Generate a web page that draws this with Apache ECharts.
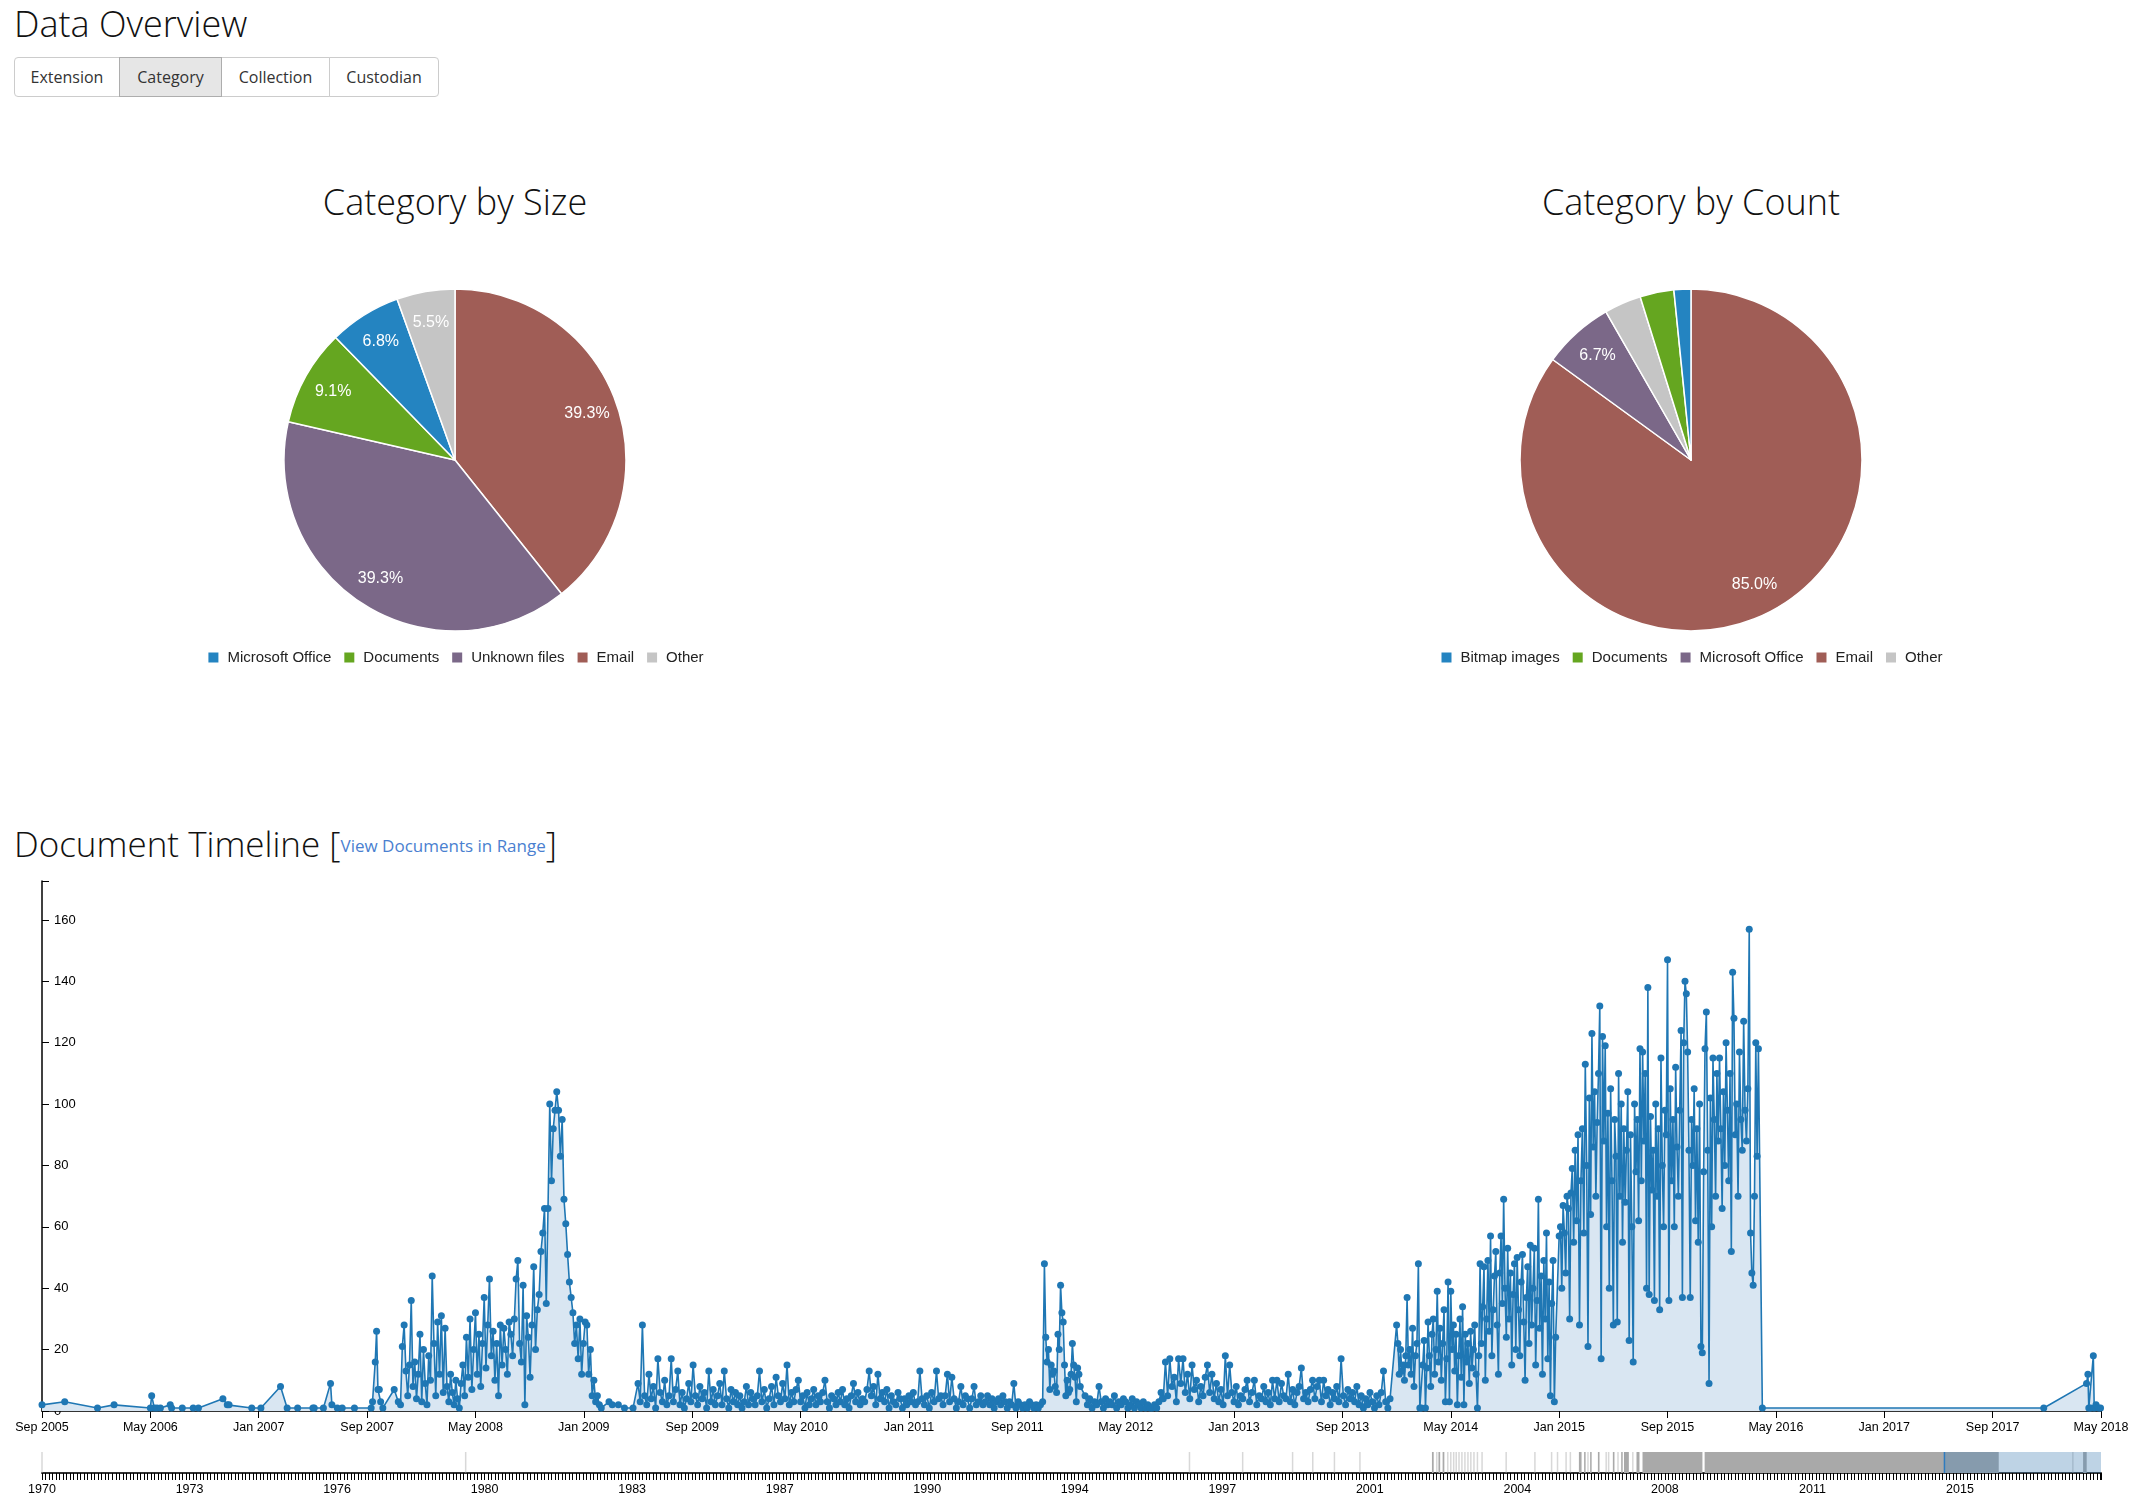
<!DOCTYPE html>
<html>
<head>
<meta charset="utf-8">
<script src="https://cdn.jsdelivr.net/npm/echarts@6/dist/echarts.min.js"></script>
<style>
html,body{margin:0;padding:0;background:#fff;width:2132px;height:1510px;overflow:hidden;}
.h{position:absolute;font-family:"Open Sans";font-weight:300;color:#111;white-space:nowrap;line-height:1;}
.btns{position:absolute;left:14px;top:57px;display:flex;font-family:"Open Sans";font-size:16px;color:#333;}
.btns div{box-sizing:border-box;height:40px;line-height:38px;text-align:center;border:1px solid #ccc;margin-left:-1px;background:#fff;}
.btns div:first-child{margin-left:0;border-radius:4px 0 0 4px;}
.btns div:last-child{border-radius:0 4px 4px 0;}
.btns div.active{background:#e6e6e6;border-color:#adadad;position:relative;z-index:1;}
.lnk{font-size:17px;font-weight:400;color:#4a7fd0;position:relative;top:-5px;}
.chart{position:absolute;}
</style>
</head>
<body>
<div class="h" style="left:14px;top:6px;font-size:36px;">Data Overview</div>
<div class="btns">
  <div style="width:106px">Extension</div>
  <div class="active" style="width:103px">Category</div>
  <div style="width:109px">Collection</div>
  <div style="width:110px">Custodian</div>
</div>
<div class="h" style="left:455px;top:184px;font-size:36px;transform:translateX(-50%);">Category by Size</div>
<div class="h" style="left:1691px;top:184px;font-size:36px;transform:translateX(-50%);">Category by Count</div>
<div class="h" style="left:14px;top:826px;font-size:35px;">Document Timeline <span>[</span><span class="lnk">View Documents in Range</span><span>]</span></div>

<div id="pieSize" class="chart" style="left:15px;top:240px;width:880px;height:440px;"></div>
<div id="pieCount" class="chart" style="left:1251px;top:240px;width:880px;height:440px;"></div>
<div id="timeline" class="chart" style="left:0px;top:860px;width:2132px;height:650px;"></div>

<script>
// ---------------- Pie data ----------------
const sizeNames   = ['Email', 'Unknown files', 'Documents', 'Microsoft Office', 'Other'];
const sizeValues  = [39.3, 39.3, 9.1, 6.8, 5.5];
const sizeLegend  = ['Microsoft Office', 'Documents', 'Unknown files', 'Email', 'Other'];

const countNames  = ['Email', 'Microsoft Office', 'Other', 'Documents', 'Bitmap images'];
const countValues = [85.0, 6.7, 3.5, 3.2, 1.6];
const countLegend = ['Bitmap images', 'Documents', 'Microsoft Office', 'Email', 'Other'];

// ---------------- Timeline data ----------------
// sparse early documents (date, count)
const sparse2005Dates = ['2005-09-01','2005-10-22','2006-01-04','2006-02-10','2006-05-01','2006-05-04','2006-05-10','2006-05-16','2006-05-24','2006-06-15',
  '2006-06-18','2006-07-12','2006-08-06','2006-08-18','2006-10-12','2006-10-22','2006-10-26','2006-12-16','2007-01-06','2007-02-18',
  '2007-03-04','2007-03-28','2007-05-01','2007-05-04','2007-05-25','2007-06-10','2007-06-13','2007-06-25','2007-07-06','2007-08-03',
  '2007-09-10','2007-09-13','2007-09-19','2007-09-22','2007-09-25','2007-09-28','2007-10-01','2007-10-06','2007-11-01','2007-11-10'];
const sparse2005Counts = [2,3,1,2,1,5,1,1,1,2, 1,1,1,1,4,2,2,1,1,8, 1,1,1,1,1,9,2,1,1,1, 1,3,16,26,7,7,3,1,7,3];

// burst Nov 2007 - Feb 2009 (every 4 days)
const burst2008Start = '2007-11-15', burst2008Step = 4;
const burst2008Counts = [2,21,28,13, 5,15,36,8,16,4,12,25, 3,20,9,2,18,10,44, 22,5,29,12,31,6,27,8, 3,12,6,2,10,4,1,
  9,15,5,24,11,30,7,20, 32,12,25,8,22,37,14,28, 43,18,26,10,22,5,28, 15,27,20,12,29,25,18,30, 43,49,22,16,41,2,31,24,
  11,28,47,20,33,38,52, 58,66,35,66,100,75,92,98, 104,98,83,95,69,61,51,42, 37,32,22,28,17,30,12, 22,29,28,12,20,5,10,3, 5,2,1];

const lull2009Dates  = ['2009-02-25','2009-03-04','2009-03-18','2009-04-01','2009-04-20'];
const lull2009Counts = [3,2,2,1,1];

// May 2009 - Oct 2011 (every 5 days)
const low2009Start = '2009-05-01', low2009Step = 5;
const low2009Counts = [
  9,3,28,5,2,12, 4,8,1,17,6,3, 10,2,5,17,3,7, 13,2,6,1,4,9, 3,15,5,2,8,4, 6,1,13,3,7,2,
  5,9,2,13,4,1, 7,3,6,2,5,1, 3,8,2,6,4,2, 5,13,3,7,1,4, 8,2,11,5,3,9, 4,15,2,6,3,7,
  10,3,5,1,6,2, 4,7,2,5,3,6, 10,3,1,5,4,2, 6,3,7,2,4,1, 5,9,3,6,2,4, 3,7,13,5,8,2,
  12,4,6,3,7,1, 5,3,2,6,4,1, 4,2,5,3,6,2, 3,13,4,2,5,1, 6,3,13,4,5,2, 5,12,3,11,4,1,
  3,8,2,5,4,1, 4,8,2,3,5,2, 3,5,2,4,1,3, 4,2,5,3,1,3, 2,9,1,3,2,1, 2,1,3,2,1,2, 1,2,3];

// Nov 2011 spike (every 3 days)
const spike2011Start = '2011-11-01', spike2011Step = 3;
const spike2011Counts = [48,24,16,20,7,15,12,13,8,6,25,20,41,32,29,15,5,10,6,7,12,22,15,11,3,14,12,8];

// Feb 2012 - Dec 2013 (every 5 days)
const low2012Start = '2012-02-01', low2012Step = 5;
const low2012Counts = [
  5,2,4,1,3,2, 8,3,1,4,2,3, 2,5,1,3,2,4, 3,1,2,4,1,3, 2,1,3,1,2,1, 1,2,1,3,6,4,
  16,5,17,8,11,3, 17,9,17,6,12,4, 15,7,10,3,8,5, 11,15,6,12,4,9, 3,7,2,18,5,15,
  6,3,8,2,5,4, 7,10,3,6,10,2, 5,4,8,3,6,2, 10,4,10,3,9,5, 4,12,3,7,2,6, 8,14,4,6,3,7,
  10,4,8,10,3,10, 5,7,2,6,4,8, 3,17,5,2,7,4, 6,3,8,2,5,1, 4,2,6,3,1,5, 2,6,13,3,1,4];

// 2014 rise (every 3 days)
const rise2014Start = '2014-01-01', rise2014Step = 3;
const rise2014Counts = [
  28,22,12,20,13,15,10,18,37,15, 20,12,27,8,18,22,48,1,1,15, 23,1,14,29,18,8,25,30,12,20,
  39,16,27,10,22,33,3,17,42,3, 39,20,28,13,25,2,18,30,11,34, 2,25,16,22,9,26,14,20,28,12,
  1,18,48,22,34,47,10,30,49,26, 57,18,33,44,52,28,12,45,57,35, 69,40,24,53,30,45,15,38,48,20,
  50,33,18,42,51,29,10,37,47,22, 54,28,40,53,15,36,69,27,44,12, 49,30,58,17,42,5,35,49,3,24];

// 2015 - Mar 2016 peak (every 3 days)
const peak2015Start = '2015-01-01', peak2015Step = 3;
const peak2015Counts = [
  57,60,40,67,58,45,70,66,30,71, 79,55,85,62,90,28,75,92,58,113, 80,21,102,64,123,86,104,70,94,110,
  132,17,122,88,119,60,97,40,105,75, 28,95,83,29,110,70,100,55,92,68, 85,104,23,90,60,16,100,78,95,62,
  118,75,117,88,110,40,138,38,96,72, 85,36,100,70,92,33,115,80,60,98, 90,147,36,105,75,95,60,112,86,70,
  98,124,37,120,140,136,117,85,37,95, 80,105,62,92,55,100,21,19,78,118, 130,85,9,102,60,115,95,70,110,88,
  115,92,66,104,80,120,98,75,110,52, 143,128,90,100,70,117,95,85,127,98, 88,105,157,58,45,41,70,120,83,118];

const tailDates  = ['2016-04-01','2017-12-25','2018-03-30','2018-04-02','2018-04-04','2018-04-08','2018-04-14','2018-04-16','2018-04-20','2018-04-26','2018-04-30'];
const tailCounts = [1,1,9,12,1,1,18,1,2,1,1];

// context strip: documents outside the main range
const contextEarlyDates = ['1970-01-01','1980-01-05','1997-02-10','1998-05-15','1999-07-20','2000-01-10','2000-07-15','2001-02-20',
  '2002-11-10','2002-11-25','2002-12-15','2003-01-05','2003-01-20','2003-02-10','2003-02-25','2003-03-20','2003-04-15','2003-05-10',
  '2003-06-01','2003-06-25','2003-07-20','2003-08-15','2003-09-10','2003-10-05','2003-11-01','2003-12-01','2004-01-10','2004-08-05','2005-04-10'];
const brushStartDate = '2014-12-13', contextEndDate = '2018-08-25';

// tick labels
const monthNames = ['Jan','Feb','Mar','Apr','May','Jun','Jul','Aug','Sep','Oct','Nov','Dec'];
const EPOCH_YEAR = 2005;

// ---------------- helpers ----------------
const DAY = 86400000;
const toMs = s => Date.parse(s + 'T00:00:00Z');
function rec(ms, c) { return { ms, c }; }
function fromList(dates, counts) { return dates.map((d, i) => rec(toMs(d), counts[i])); }
function fromSteps(start, step, counts) { const t0 = toMs(start); return counts.map((c, i) => rec(t0 + i * step * DAY, c)); }
function monthIndex(ms) {
  const d = new Date(ms); const y = d.getUTCFullYear(), m = d.getUTCMonth();
  const dim = new Date(Date.UTC(y, m + 1, 0)).getUTCDate();
  return (y - EPOCH_YEAR) * 12 + m + (d.getUTCDate() - 1) / dim;
}

const records = [].concat(
  fromList(sparse2005Dates, sparse2005Counts),
  fromSteps(burst2008Start, burst2008Step, burst2008Counts),
  fromList(lull2009Dates, lull2009Counts),
  fromSteps(low2009Start, low2009Step, low2009Counts),
  fromSteps(spike2011Start, spike2011Step, spike2011Counts),
  fromSteps(low2012Start, low2012Step, low2012Counts),
  fromSteps(rise2014Start, rise2014Step, rise2014Counts),
  fromSteps(peak2015Start, peak2015Step, peak2015Counts),
  fromList(tailDates, tailCounts)
).sort((a, b) => a.ms - b.ms);

const lineData = records.map(r => [monthIndex(r.ms), r.c]);
const yMax = Math.max.apply(null, records.map(r => r.c)) * 1.1;

// context: group document dates into runs (dates closer than 16 days form one run)
const ctxDates = contextEarlyDates.map(toMs).concat(records.map(r => r.ms)).sort((a, b) => a - b);
const ctxRuns = [];
ctxDates.forEach(ms => {
  const last = ctxRuns[ctxRuns.length - 1];
  if (last && ms - last[1] <= 16 * DAY) { last[1] = ms; last[2] += 1; }
  else ctxRuns.push([ms, ms, 1]);
});

// ---------------- Pies ----------------
const FONT = 'Liberation Sans, Arial, sans-serif';
const sizeColors  = { 'Microsoft Office': '#2484c1', 'Documents': '#65a620', 'Unknown files': '#7b6888', 'Email': '#a05d56', 'Other': '#c5c5c5' };
const countColors = { 'Bitmap images': '#2484c1', 'Documents': '#65a620', 'Microsoft Office': '#7b6888', 'Email': '#a05d56', 'Other': '#c5c5c5' };

function pieOption(names, values, legendNames, colors) {
  const R = 171, C = [440, 220];
  const data = names.map((n, i) => ({ name: n, value: values[i], itemStyle: { color: colors[n] } }));
  return {
    animation: false,
    legend: {
      data: legendNames, left: 'center', top: 405, icon: 'rect', itemWidth: 12, itemHeight: 12, itemGap: 11,
      selectedMode: false, textStyle: { fontFamily: FONT, fontSize: 15, color: '#222', padding: [0, 0, 0, 3] }
    },
    series: [
      { type: 'pie', center: C, radius: R, startAngle: 90, clockwise: true, data: data,
        percentPrecision: 1, label: { show: false }, labelLine: { show: false },
        itemStyle: { borderColor: '#fff', borderWidth: 1.5 }, emphasis: { disabled: true } },
      { type: 'pie', center: C, radius: [R * 0.6, R], startAngle: 90, clockwise: true, silent: true,
        data: names.map((n, i) => ({ name: n, value: values[i] })), percentPrecision: 1,
        itemStyle: { color: 'rgba(0,0,0,0)', borderWidth: 0 }, labelLine: { show: false }, emphasis: { disabled: true },
        label: { show: true, position: 'inside', color: '#fff', fontSize: 16, fontFamily: FONT,
          formatter: p => (p.percent >= 5 ? p.percent.toFixed(1) + '%' : '') } }
    ]
  };
}
echarts.init(document.getElementById('pieSize')).setOption(pieOption(sizeNames, sizeValues, sizeLegend, sizeColors));
echarts.init(document.getElementById('pieCount')).setOption(pieOption(countNames, countValues, countLegend, countColors));

// ---------------- Timeline ----------------
const CTX_INTERVAL = 1.1e11;
const ctxMax = toMs(contextEndDate);
const tl = echarts.init(document.getElementById('timeline'));
tl.setOption({
  animation: false,
  grid: [
    { left: 42, right: 31, top: 21, bottom: 99 },
    { left: 42, right: 31, top: 592, height: 21 }
  ],
  xAxis: [
    { type: 'value', gridIndex: 0, min: 8, max: 160, interval: 8,
      axisLine: { lineStyle: { color: '#333', width: 2 } },
      axisTick: { length: 7, lineStyle: { color: '#000', width: 1 } },
      axisLabel: { fontFamily: FONT, fontSize: 12.5, color: '#000', margin: 10,
        formatter: v => monthNames[((v % 12) + 12) % 12] + ' ' + (EPOCH_YEAR + Math.floor(v / 12)) },
      splitLine: { show: false } },
    { type: 'value', gridIndex: 1, min: 0, max: ctxMax, interval: CTX_INTERVAL,
      axisLine: { lineStyle: { color: '#333', width: 2 } },
      axisTick: { length: 7, lineStyle: { color: '#000', width: 1 } },
      minorTick: { show: true, splitNumber: 42, length: 7, lineStyle: { color: '#000', width: 1 } },
      axisLabel: { fontFamily: FONT, fontSize: 12.5, color: '#000', margin: 10,
        formatter: v => (v % CTX_INTERVAL === 0 ? String(new Date(v).getUTCFullYear()) : '') },
      splitLine: { show: false }, minorSplitLine: { show: false } }
  ],
  yAxis: [
    { type: 'value', gridIndex: 0, min: 0, max: yMax, interval: 20,
      axisLine: { show: true, lineStyle: { color: '#000', width: 1.5 } },
      axisTick: { show: true, inside: true, length: 7, lineStyle: { color: '#000', width: 1 } },
      axisLabel: { inside: true, margin: 12, fontFamily: FONT, fontSize: 13, color: '#000',
        formatter: v => (v % 20 === 0 ? String(v) : '') },
      splitLine: { show: false } },
    { type: 'value', gridIndex: 1, min: 0, max: 1, show: false }
  ],
  series: [
    { type: 'line', xAxisIndex: 0, yAxisIndex: 0, data: lineData, symbol: 'circle', symbolSize: 7, showSymbol: true,
      lineStyle: { color: '#1f77b4', width: 1.6 }, itemStyle: { color: '#1f77b4' },
      areaStyle: { color: '#d9e6f2', opacity: 1 }, emphasis: { disabled: true }, z: 2 },
    { type: 'custom', xAxisIndex: 1, yAxisIndex: 1, data: ctxRuns, z: 2, silent: true,
      encode: { x: [0, 1] },
      renderItem: function (params, api) {
        const a = api.coord([api.value(0), 1]);
        const b = api.coord([api.value(1), 0]);
        const single = api.value(2) < 2;
        const w = Math.max(b[0] - a[0], 1.5);
        return { type: 'rect', shape: { x: a[0] - 0.75, y: a[1], width: w, height: b[1] - a[1] },
          style: { fill: single ? 'rgba(169,169,169,0.45)' : 'rgba(169,169,169,1)' } };
      } },
    { type: 'custom', xAxisIndex: 1, yAxisIndex: 1, data: [[toMs(brushStartDate), ctxMax]], z: 10, silent: true,
      renderItem: function (params, api) {
        const s = api.coord([api.value(0), 1]);
        const e = api.coord([api.value(1), 0]);
        return { type: 'group', children: [
          { type: 'rect', shape: { x: s[0], y: s[1], width: e[0] - s[0], height: e[1] - s[1] }, style: { fill: 'rgba(70,130,180,0.35)' } },
          { type: 'line', shape: { x1: s[0], y1: s[1], x2: s[0], y2: e[1] }, style: { stroke: '#2e7bbf', lineWidth: 1.5 } }
        ] };
      } }
  ]
});
</script>
</body>
</html>
